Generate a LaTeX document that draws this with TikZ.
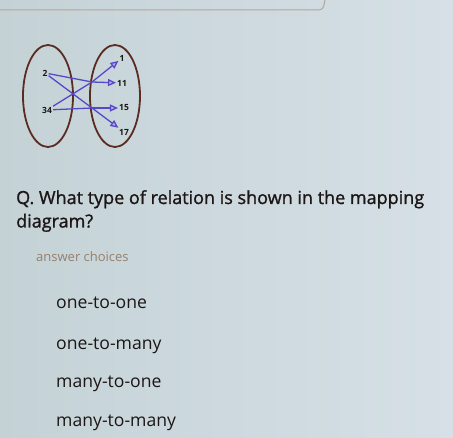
\documentclass[tikz,border=0pt]{standalone}
\usepackage{fontspec}
\setmainfont{Open Sans}
\newfontfamily\qfont[FakeBold=1.2]{Open Sans}
\usetikzlibrary{arrows.meta}
\definecolor{paperl}{RGB}{196,210,214}
\definecolor{paperr}{RGB}{214,224,230}
\definecolor{ink}{RGB}{28,22,22}
\definecolor{ring}{RGB}{90,44,34}
\definecolor{pen}{RGB}{88,72,200}
\definecolor{hint}{RGB}{150,128,110}
\tikzstyle{num} = [inner sep = 1pt, font = \bfseries\fontsize{8.5}{8.5}\selectfont, text = ink]
\tikzstyle{set} = [draw = ring, line width = 1.8pt]
\tikzstyle{map} = [draw = pen, line width = 1.3pt]
\tikzstyle{tip} = [-{Triangle[length = 8pt, width = 7pt, fill = pen!45]}]
\tikzstyle{question} = [anchor = base west, inner sep = 0pt, font = \qfont\fontsize{18}{18}\selectfont, text = ink]
\tikzstyle{choice} = [anchor = base west, inner sep = 0pt, font = \fontsize{17.6}{17.6}\selectfont, text = ink]

\begin{document}
\begin{tikzpicture}[x = 1pt, y = -1pt]
	\useasboundingbox (0,0) rectangle (453,438);
	\shade[left color = paperl, right color = paperr] (0,0) rectangle (453,438);
	\draw [draw = hint!70, line width = 1pt, rounded corners = 4pt] (0,10) -- (323,10) -- (325,0);
	
	% the two sets
	\draw [set] (48,96) ellipse (25 and 51);
	\draw [set] (115,96) ellipse (25 and 51);
	
	\node (n2)[num] at (45,73){2};
	\node (n34)[num] at (47,110){34};
	\node (n1)[num] at (122,58){1};
	\node (n11)[num] at (122,83){11};
	\node (n15)[num] at (124,108){15};
	\node (n17)[num] at (124,132){17};
	\coordinate (jt) at (92,82);
	\coordinate (jb) at (92,108);
	
	\draw [map] (n2) -- (jt);
	\draw [map] (n2) -- (jb);
	\draw [map] (n34) -- (jt);
	\draw [map] (n34) -- (jb);
	\draw [map, tip] (jt) -- (n1);
	\draw [map, tip] (jt) -- (n11);
	\draw [map, tip] (jb) -- (n15);
	\draw [map, tip] (jb) -- (n17);
	
	% question and choices
	\node (q1)[question] at (16,204){Q. What type of relation is shown in the mapping};
	\node (q2)[question] at (16,227.5){diagram?};
	\node (hint)[anchor = base west, inner sep = 0pt, font = \fontsize{13}{13}\selectfont, text = hint] at (36,262){answer choices};
	\node (c1)[choice] at (56,309){one-to-one};
	\node (c2)[choice] at (56,350){one-to-many};
	\node (c3)[choice] at (56,388){many-to-one};
	\node (c4)[choice] at (56,427){many-to-many};
\end{tikzpicture}
\end{document}
